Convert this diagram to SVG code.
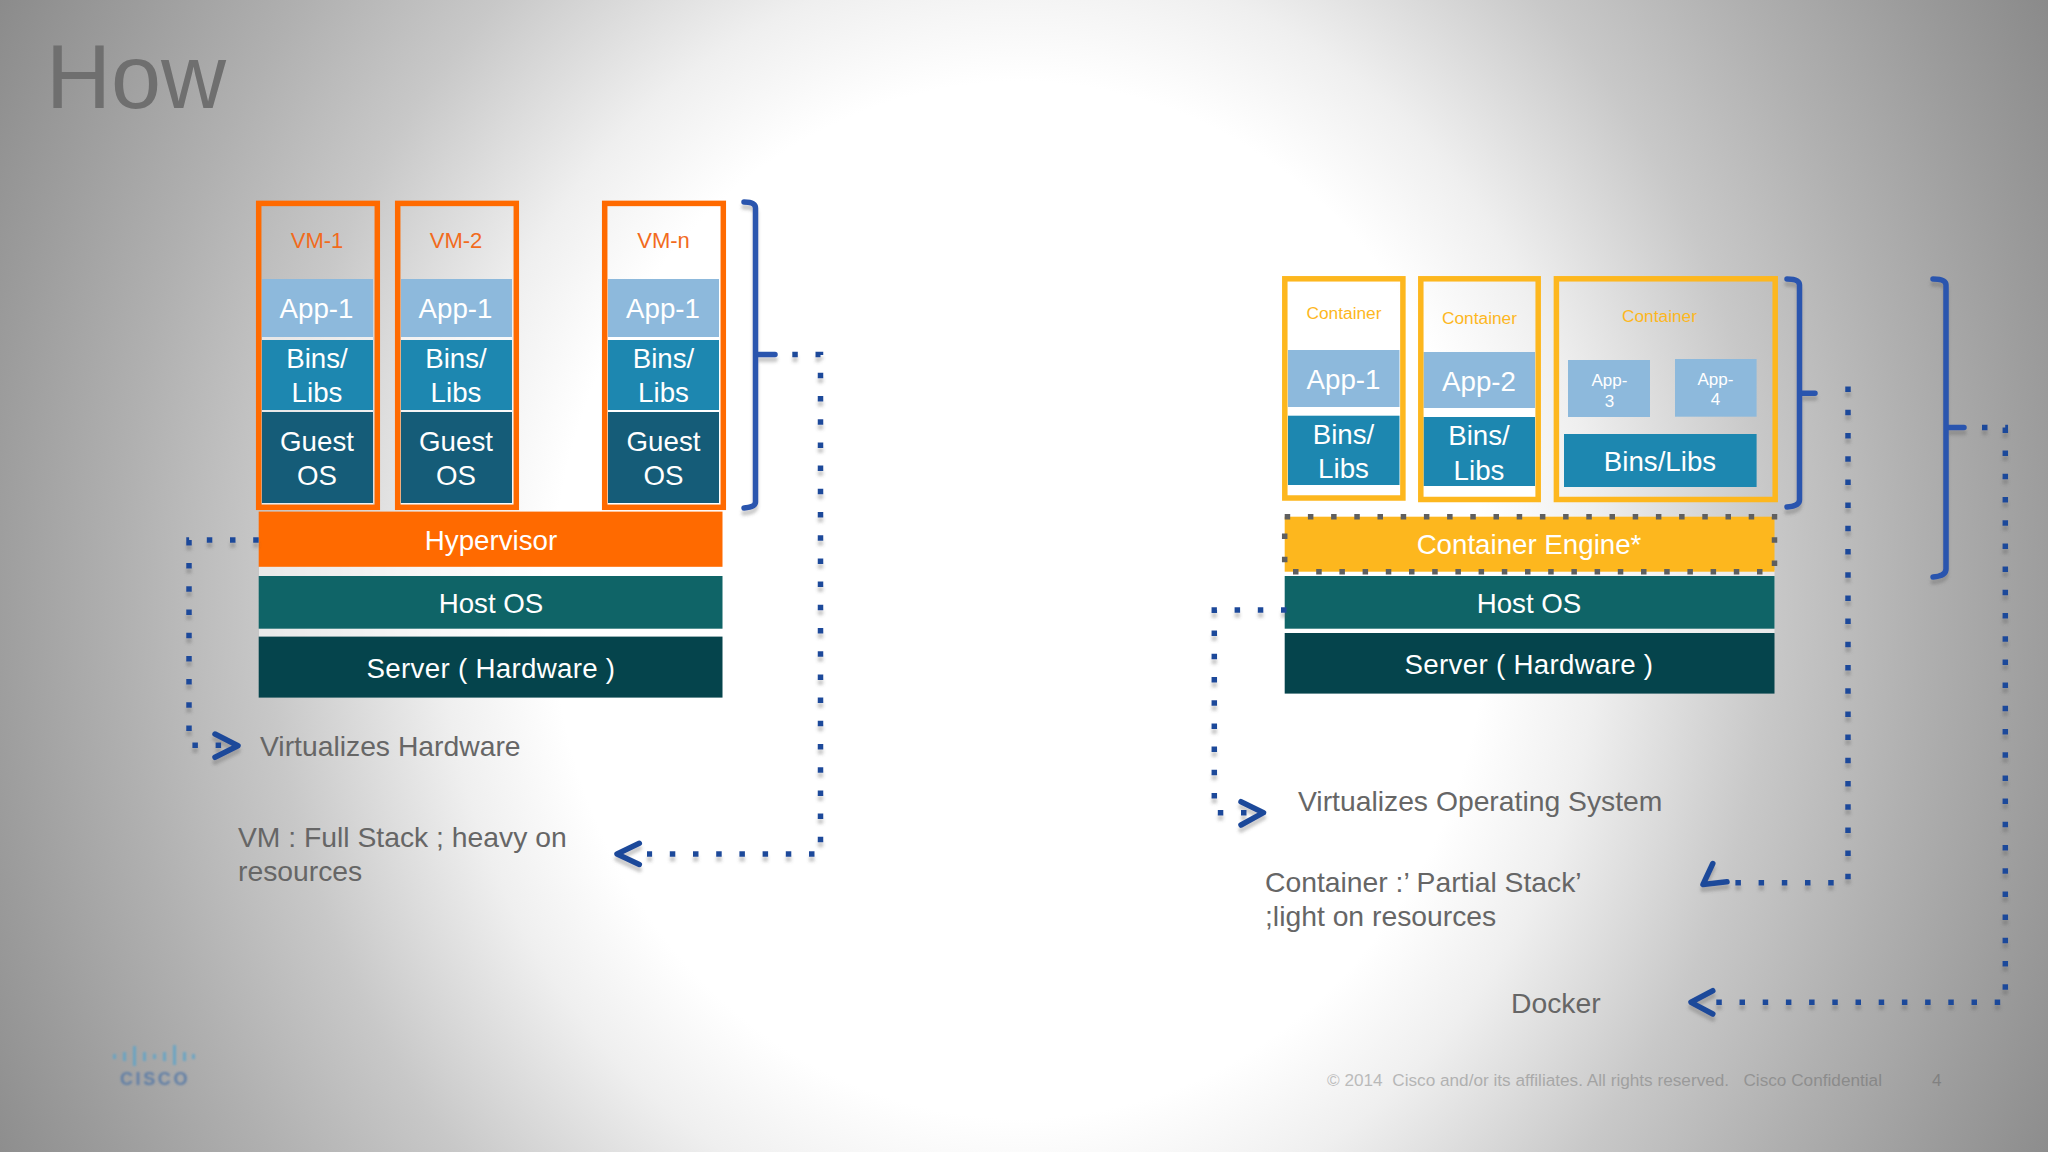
<svg xmlns="http://www.w3.org/2000/svg" width="2048" height="1152" viewBox="0 0 2048 1152">
<style>
text{font-family:"Liberation Sans",Arial,sans-serif}
.w{fill:#fff;text-anchor:middle;font-size:27.7px}
.vm{fill:#F26B1D;text-anchor:middle;font-size:22px}
.ct{fill:#FDB71E;text-anchor:middle;font-size:17.3px}
.sm{fill:#fff;text-anchor:middle;font-size:17px}
.g{fill:#666;font-size:28.3px}
.ft{fill:url(#ftc);font-size:17.2px}
.of{fill:none;stroke:#FF6A00;stroke-width:5.5}
.yf{fill:none;stroke:#FDB71E;stroke-width:5.5}
.app{fill:#8DB9DC}.bin{fill:#1D87B0}.gst{fill:#155C78}.hst{fill:#0F6467}.srv{fill:#05444C}
.gap{fill:#fff;fill-opacity:.6}
.dot{fill:none;stroke:#1F4A9A;stroke-width:5.5;stroke-dasharray:5.5 17.7}
.br{fill:none;stroke:#2A55AE;stroke-width:5.5;stroke-linejoin:round;stroke-linecap:round}
.ch{fill:none;stroke:#1F4A9A;stroke-width:5.5;stroke-linecap:round;stroke-linejoin:round}
</style>
<defs>
<radialGradient id="bg" gradientUnits="userSpaceOnUse" cx="0" cy="0" r="1.1" gradientTransform="translate(1020 600) scale(1120 1240)">
<stop offset="0.38" stop-color="#fff"/>
<stop offset="0.47" stop-color="#efefef"/>
<stop offset="0.61" stop-color="#c8c8c8"/>
<stop offset="0.73" stop-color="#b0b0b0"/>
<stop offset="0.84" stop-color="#9c9c9c"/>
<stop offset="0.955" stop-color="#888"/>
</radialGradient>
<linearGradient id="ftc" gradientUnits="userSpaceOnUse" x1="1327" y1="0" x2="1945" y2="0">
<stop offset="0" stop-color="#bdbdbd"/><stop offset="1" stop-color="#808080"/>
</linearGradient>
<filter id="sh" x="-5%" y="-5%" width="110%" height="110%"><feDropShadow dx="0" dy="5" stdDeviation="1.5" flood-color="#555" flood-opacity=".3"/></filter>
<filter id="bl"><feGaussianBlur stdDeviation=".8"/></filter>
</defs>
<rect width="2048" height="1152" fill="url(#bg)"/>
<text id="title" x="46" y="108" font-size="90" fill="#6f6f6f">How</text>

<g id="vm-1">
<rect class="gap" x="262" y="337" width="111" height="168"/>
<rect class="app" x="262" y="279" width="111" height="58"/>
<rect class="bin" x="262" y="340" width="111" height="70"/>
<rect class="gst" x="262" y="412" width="111" height="91"/>
<rect class="of" x="258.7" y="203.4" width="118.6" height="303.9"/>
<text class="vm" x="317" y="248">VM-1</text>
<text class="w" x="316.5" y="318">App-1</text>
<text class="w" x="317" y="368">Bins/</text><text class="w" x="317" y="402">Libs</text>
<text class="w" x="317" y="450.5">Guest</text><text class="w" x="317" y="484.5">OS</text>
</g>
<g id="vm-2">
<rect class="gap" x="401" y="337" width="111" height="168"/>
<rect class="app" x="401" y="279" width="111" height="58"/>
<rect class="bin" x="401" y="340" width="111" height="70"/>
<rect class="gst" x="401" y="412" width="111" height="91"/>
<rect class="of" x="397.7" y="203.4" width="118.6" height="303.9"/>
<text class="vm" x="456" y="248">VM-2</text>
<text class="w" x="455.5" y="318">App-1</text>
<text class="w" x="456" y="368">Bins/</text><text class="w" x="456" y="402">Libs</text>
<text class="w" x="456" y="450.5">Guest</text><text class="w" x="456" y="484.5">OS</text>
</g>
<g id="vm-n">
<rect class="gap" x="608" y="337" width="111" height="168"/>
<rect class="app" x="608" y="279" width="111" height="58"/>
<rect class="bin" x="608" y="340" width="111" height="70"/>
<rect class="gst" x="608" y="412" width="111" height="91"/>
<rect class="of" x="604.7" y="203.4" width="118.6" height="303.9"/>
<text class="vm" x="663.5" y="248">VM-n</text>
<text class="w" x="663" y="318">App-1</text>
<text class="w" x="663.5" y="368">Bins/</text><text class="w" x="663.5" y="402">Libs</text>
<text class="w" x="663.5" y="450.5">Guest</text><text class="w" x="663.5" y="484.5">OS</text>
</g>
<rect class="gap" x="259" y="566" width="463.5" height="72"/>
<g id="hypervisor"><rect x="258.7" y="511.6" width="463.8" height="55.2" fill="#FF6A00"/><text class="w" x="491" y="550">Hypervisor</text></g>
<g id="host-os-left"><rect class="hst" x="258.7" y="576" width="463.8" height="52.7"/><text class="w" x="491" y="612.8">Host OS</text></g>
<g id="server-left"><rect class="srv" x="258.7" y="636.6" width="463.8" height="61"/><text class="w" x="491" y="677.8" letter-spacing=".3">Server ( Hardware )</text></g>

<g id="container-1">
<rect x="1288" y="350" width="111.5" height="148" fill="#fff"/>
<rect class="app" x="1288" y="350" width="111.5" height="57"/>
<rect class="bin" x="1288" y="415.7" width="111.5" height="69.3"/>
<rect class="yf" x="1284.8" y="278.8" width="118.1" height="219.2"/>
<text class="ct" x="1344" y="319.3">Container</text>
<text class="w" x="1343.5" y="389.3">App-1</text>
<text class="w" x="1343.5" y="444">Bins/</text><text class="w" x="1343.5" y="477.7">Libs</text>
</g>
<g id="container-2">
<rect x="1423.5" y="352" width="111.5" height="147" fill="#fff"/>
<rect class="app" x="1423.5" y="352" width="111.5" height="56"/>
<rect class="bin" x="1423.5" y="417" width="111.5" height="69"/>
<rect class="yf" x="1420.8" y="278.8" width="117.4" height="220.7"/>
<text class="ct" x="1479.5" y="324">Container</text>
<text class="w" x="1479" y="390.7">App-2</text>
<text class="w" x="1479" y="445.3">Bins/</text><text class="w" x="1479" y="479.8">Libs</text>
</g>
<g id="container-3">
<rect class="app" x="1568" y="360" width="82" height="57"/>
<rect class="app" x="1675" y="359" width="81.6" height="57.7"/>
<rect class="bin" x="1564" y="434" width="192.6" height="53"/>
<rect class="yf" x="1556.4" y="278.8" width="218.8" height="220.7"/>
<text class="ct" x="1659.5" y="321.7">Container</text>
<text class="sm" x="1609.5" y="386">App-</text><text class="sm" x="1609.5" y="406.7">3</text>
<text class="sm" x="1715.5" y="385">App-</text><text class="sm" x="1715.5" y="405">4</text>
<text class="w" x="1660" y="470.7">Bins/Libs</text>
</g>
<rect class="gap" x="1285" y="570" width="489.5" height="64"/>
<g id="container-engine">
<rect x="1284.7" y="516.7" width="489.8" height="55" fill="#FDB71E" stroke="#5f5f5f" stroke-width="5.5" stroke-dasharray="5.5 17.7"/>
<text class="w" x="1529" y="554.3">Container Engine*</text>
</g>
<g id="host-os-right"><rect class="hst" x="1284.7" y="576" width="489.8" height="52.7"/><text class="w" x="1529" y="612.6">Host OS</text></g>
<g id="server-right"><rect class="srv" x="1284.7" y="633" width="489.8" height="60.6"/><text class="w" x="1529" y="674.2" letter-spacing=".3">Server ( Hardware )</text></g>

<g id="connectors" filter="url(#sh)">
<path class="br" d="M744 202Q755.5 202 755.5 208V502Q755.5 507 744 508M755.5 354.6H775"/>
<path class="dot" d="M792.3 354.6H820.5V854H647"/>
<path class="ch" d="M639.3 843.3L617 854L639.3 864.5"/>
<path class="dot" d="M258.7 540H189V745.3H222"/>
<path class="ch" d="M215 734L238 745.7L215 757.3"/>
<path class="br" d="M1787 279Q1799.5 279 1799.5 285V500Q1799.5 506 1787 507M1799.5 393.3H1815"/>
<path class="dot" d="M1848 386.6V882.7H1735"/>
<path class="ch" d="M1712.8 863.5L1703 884.5L1727 881.7"/>
<path class="br" d="M1933 279Q1946 279 1946 285V569Q1946 576 1933 577M1946 427.5H1964"/>
<path class="dot" d="M1982 427.5H2005.3V1002.3H1715"/>
<path class="ch" d="M1712.8 990.7L1691 1002.3L1712.8 1014"/>
<path class="dot" d="M1286.5 610H1214.3V812.7H1247"/>
<path class="ch" d="M1241 801.7L1263.5 812.7L1241 825"/>
</g>

<text class="g" id="t1" x="260" y="756">Virtualizes Hardware</text>
<text class="g" id="t2" x="238" y="846.7">VM : Full Stack ; heavy on</text>
<text class="g" id="t3" x="238" y="881">resources</text>
<text class="g" id="t4" x="1298" y="811.2">Virtualizes Operating System</text>
<text class="g" id="t5" x="1265" y="891.7">Container :’ Partial Stack’</text>
<text class="g" id="t6" x="1265" y="926">;light on resources</text>
<text class="g" id="t7" x="1511" y="1013">Docker</text>
<text class="ft" id="t8" x="1327" y="1085.5" xml:space="preserve">© 2014  Cisco and/or its affiliates. All rights reserved.   Cisco Confidential</text>
<text class="ft" id="t9" x="1932" y="1085.5">4</text>

<g id="cisco-logo">
<g filter="url(#bl)" fill="#5fa3c8" fill-opacity=".85">
<rect x="113" y="1054" width="3" height="5"/><rect x="123" y="1052" width="3" height="9"/><rect x="133" y="1046" width="3" height="20"/><rect x="143" y="1052" width="3" height="9"/><rect x="153" y="1054" width="3" height="5"/><rect x="163" y="1052" width="3" height="9"/><rect x="173" y="1045" width="3" height="20"/><rect x="183" y="1052" width="3" height="9"/><rect x="192" y="1054" width="3" height="5"/>
</g>
<text x="120" y="1084.5" filter="url(#bl)" font-size="18" font-weight="700" letter-spacing="2.6" fill="#5f7ea6">CISCO</text>
</g>
</svg>
